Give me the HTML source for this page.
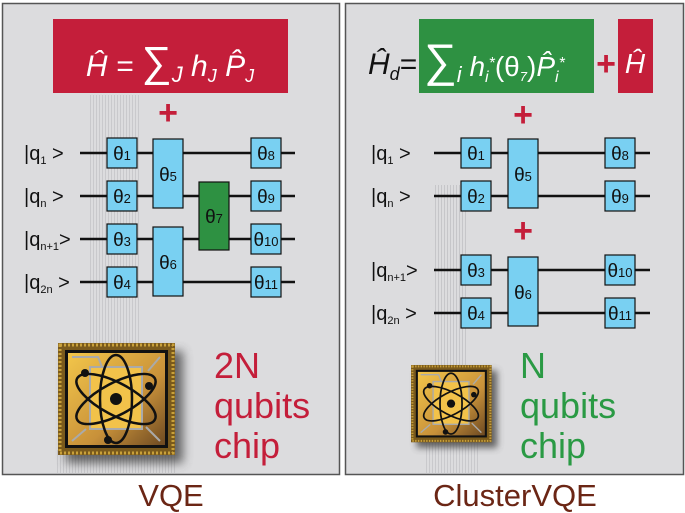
<!DOCTYPE html>
<html><head><meta charset="utf-8"><style>
html,body{margin:0;padding:0;background:#fff;}
svg{display:block;font-family:"Liberation Sans",sans-serif;}
</style></head><body>
<svg width="685" height="513" viewBox="0 0 685 513" xmlns="http://www.w3.org/2000/svg">
<defs>
<linearGradient id="gold" x1="0" y1="0" x2="1" y2="1">
<stop offset="0" stop-color="#f3c64a"/><stop offset="0.6" stop-color="#c8913a"/><stop offset="1" stop-color="#6e4a22"/>
</linearGradient>
<pattern id="str" width="3" height="10" patternUnits="userSpaceOnUse"><rect width="1" height="10" fill="#bdbdc0"/></pattern>
<filter id="sh" x="-20%" y="-20%" width="150%" height="150%"><feGaussianBlur stdDeviation="5"/></filter>
<g id="chip">
<rect x="8" y="8" width="117" height="112" fill="#444" filter="url(#sh)" opacity="0.8"/>
<rect x="0" y="0" width="117" height="112" fill="#7a5a1c"/>
<rect x="2" y="2" width="113" height="108" fill="none" stroke="#c9a13a" stroke-width="3" stroke-dasharray="2 2"/>
<rect x="7" y="7" width="103" height="98" fill="#111"/>
<rect x="10" y="10" width="97" height="92" fill="url(#gold)"/>
<rect x="32" y="24" width="52" height="62" fill="#f2c24a"/>
<path d="M14 14 L40 14 L44 24 M102 14 L90 28 M14 98 L28 86 M102 98 L88 84 M32 24 L84 24 L84 86 L32 86 Z" stroke="#aaa" stroke-width="2" fill="none"/>
<g fill="none" stroke="#111" stroke-width="2.5">
<ellipse cx="58" cy="56" rx="16" ry="44"/>
<ellipse cx="58" cy="56" rx="16" ry="44" transform="rotate(62 58 56)"/>
<ellipse cx="58" cy="56" rx="16" ry="44" transform="rotate(-62 58 56)"/>
</g>
<circle cx="58" cy="56" r="6" fill="#111"/>
<circle cx="27" cy="30" r="4" fill="#111"/><circle cx="91" cy="43" r="4" fill="#111"/><circle cx="50" cy="97" r="4" fill="#111"/>
</g>
</defs>

<!-- panels -->
<rect x="2.5" y="3.5" width="337" height="471" fill="#dcdcde" stroke="#555" stroke-width="1.5"/>
<rect x="345.5" y="3.5" width="338" height="471" fill="#dcdcde" stroke="#555" stroke-width="1.5"/>

<!-- faint wire bundles -->
<g fill="url(#str)">
<rect x="90" y="95" width="50" height="250" opacity="0.6"/>
<rect x="55" y="450" width="120" height="24" opacity="0.6"/>
<rect x="433" y="185" width="35" height="180" opacity="0.7"/>
<rect x="425" y="440" width="55" height="34" opacity="0.6"/>
</g>

<!-- LEFT -->
<rect x="53" y="19" width="235" height="74" fill="#c41e3a"/>
<text x="170" y="76" fill="#fff" font-size="30" font-style="italic" text-anchor="middle">Ĥ = <tspan font-style="normal" font-size="42">∑</tspan><tspan font-size="22" dy="6">J</tspan><tspan dy="-6"> h</tspan><tspan font-size="18" dy="6">J</tspan><tspan dy="-6"> P̂</tspan><tspan font-size="18" dy="6">J</tspan></text>
<text x="168" y="124" fill="#c41e3a" font-size="34" font-weight="bold" text-anchor="middle">+</text>

<g stroke="#111" stroke-width="2.5">
<line x1="80" y1="153" x2="295" y2="153"/><line x1="80" y1="196" x2="295" y2="196"/>
<line x1="80" y1="239" x2="295" y2="239"/><line x1="80" y1="282" x2="295" y2="282"/>
</g>
<g font-size="20" fill="#111">
<text x="24" y="160">|q<tspan font-size="11" dy="4">1</tspan><tspan dy="-4"> &gt;</tspan></text>
<text x="24" y="203">|q<tspan font-size="11" dy="4">n</tspan><tspan dy="-4"> &gt;</tspan></text>
<text x="24" y="246">|q<tspan font-size="11" dy="4">n+1</tspan><tspan dy="-4">&gt;</tspan></text>
<text x="24" y="289">|q<tspan font-size="11" dy="4">2n</tspan><tspan dy="-4"> &gt;</tspan></text>
</g>
<g fill="#79d0f2" stroke="#111" stroke-width="1.2">
<rect x="107" y="138" width="30" height="30"/><rect x="107" y="181" width="30" height="30"/>
<rect x="107" y="224" width="30" height="30"/><rect x="107" y="267" width="30" height="30"/>
<rect x="153" y="139" width="30" height="69"/><rect x="153" y="227" width="30" height="69"/>
<rect x="251" y="138" width="30" height="30"/><rect x="251" y="181" width="30" height="30"/>
<rect x="251" y="224" width="30" height="30"/><rect x="251" y="267" width="30" height="30"/>
<rect x="199" y="182" width="30" height="68" fill="#2e9142"/>
</g>
<g font-size="19" fill="#111" text-anchor="middle">
<text x="122" y="160">θ<tspan font-size="13">1</tspan></text>
<text x="122" y="203">θ<tspan font-size="13">2</tspan></text>
<text x="122" y="246">θ<tspan font-size="13">3</tspan></text>
<text x="122" y="289">θ<tspan font-size="13">4</tspan></text>
<text x="168" y="181">θ<tspan font-size="13">5</tspan></text>
<text x="168" y="269">θ<tspan font-size="13">6</tspan></text>
<text x="214" y="223">θ<tspan font-size="13">7</tspan></text>
<text x="266" y="160">θ<tspan font-size="13">8</tspan></text>
<text x="266" y="203">θ<tspan font-size="13">9</tspan></text>
<text x="266" y="246">θ<tspan font-size="13">10</tspan></text>
<text x="266" y="289">θ<tspan font-size="13">11</tspan></text>
</g>

<use href="#chip" x="58" y="343"/>
<g fill="#c41e3a" font-size="36">
<text x="214" y="378">2N</text><text x="214" y="418">qubits</text><text x="214" y="458">chip</text>
</g>
<text x="171" y="506" fill="#6b2615" font-size="31" text-anchor="middle">VQE</text>

<!-- RIGHT -->
<text x="368" y="74" fill="#111" font-size="30" font-style="italic">Ĥ<tspan font-size="18" dy="6">d</tspan><tspan dy="-6" font-style="normal">=</tspan></text>
<rect x="419" y="19" width="175" height="74" fill="#2e9142"/>
<text x="424" y="76" fill="#fff" font-size="28" font-style="italic"><tspan font-style="normal" font-size="46">∑</tspan><tspan font-size="22" dy="6">i</tspan><tspan dy="-6"> h</tspan><tspan font-size="16" dy="6">i</tspan><tspan font-size="16" dy="-14">*</tspan><tspan dy="8" font-style="normal">(θ</tspan><tspan font-size="13" dy="5">7</tspan><tspan dy="-5" font-style="normal">)</tspan>P̂<tspan font-size="16" dy="6">i</tspan><tspan font-size="16" dy="-14">*</tspan></text>
<text x="606" y="75" fill="#c41e3a" font-size="34" font-weight="bold" text-anchor="middle">+</text>
<rect x="618" y="19" width="35" height="74" fill="#c41e3a"/>
<text x="635" y="73" fill="#fff" font-size="28" font-style="italic" text-anchor="middle">Ĥ</text>
<text x="523" y="126" fill="#c41e3a" font-size="34" font-weight="bold" text-anchor="middle">+</text>
<text x="523" y="242" fill="#c41e3a" font-size="34" font-weight="bold" text-anchor="middle">+</text>

<g stroke="#111" stroke-width="2.5">
<line x1="434" y1="153" x2="650" y2="153"/><line x1="434" y1="196" x2="650" y2="196"/>
<line x1="434" y1="270" x2="650" y2="270"/><line x1="434" y1="313" x2="650" y2="313"/>
</g>
<g font-size="20" fill="#111">
<text x="371" y="160">|q<tspan font-size="11" dy="4">1</tspan><tspan dy="-4"> &gt;</tspan></text>
<text x="371" y="203">|q<tspan font-size="11" dy="4">n</tspan><tspan dy="-4"> &gt;</tspan></text>
<text x="371" y="277">|q<tspan font-size="11" dy="4">n+1</tspan><tspan dy="-4">&gt;</tspan></text>
<text x="371" y="320">|q<tspan font-size="11" dy="4">2n</tspan><tspan dy="-4"> &gt;</tspan></text>
</g>
<g fill="#79d0f2" stroke="#111" stroke-width="1.2">
<rect x="461" y="138" width="30" height="30"/><rect x="461" y="181" width="30" height="30"/>
<rect x="461" y="255" width="30" height="30"/><rect x="461" y="298" width="30" height="30"/>
<rect x="508" y="139" width="30" height="69"/><rect x="508" y="257" width="30" height="69"/>
<rect x="605" y="138" width="30" height="30"/><rect x="605" y="181" width="30" height="30"/>
<rect x="605" y="255" width="30" height="30"/><rect x="605" y="298" width="30" height="30"/>
</g>
<g font-size="19" fill="#111" text-anchor="middle">
<text x="476" y="160">θ<tspan font-size="13">1</tspan></text>
<text x="476" y="203">θ<tspan font-size="13">2</tspan></text>
<text x="476" y="277">θ<tspan font-size="13">3</tspan></text>
<text x="476" y="320">θ<tspan font-size="13">4</tspan></text>
<text x="523" y="181">θ<tspan font-size="13">5</tspan></text>
<text x="523" y="299">θ<tspan font-size="13">6</tspan></text>
<text x="620" y="160">θ<tspan font-size="13">8</tspan></text>
<text x="620" y="203">θ<tspan font-size="13">9</tspan></text>
<text x="620" y="277">θ<tspan font-size="13">10</tspan></text>
<text x="620" y="320">θ<tspan font-size="13">11</tspan></text>
</g>

<use href="#chip" transform="translate(411 365) scale(0.69)"/>
<g fill="#2a9a44" font-size="36">
<text x="520" y="378">N</text><text x="520" y="418">qubits</text><text x="520" y="458">chip</text>
</g>
<text x="515" y="506" fill="#6b2615" font-size="31" text-anchor="middle">ClusterVQE</text>
</svg>
</body></html>
